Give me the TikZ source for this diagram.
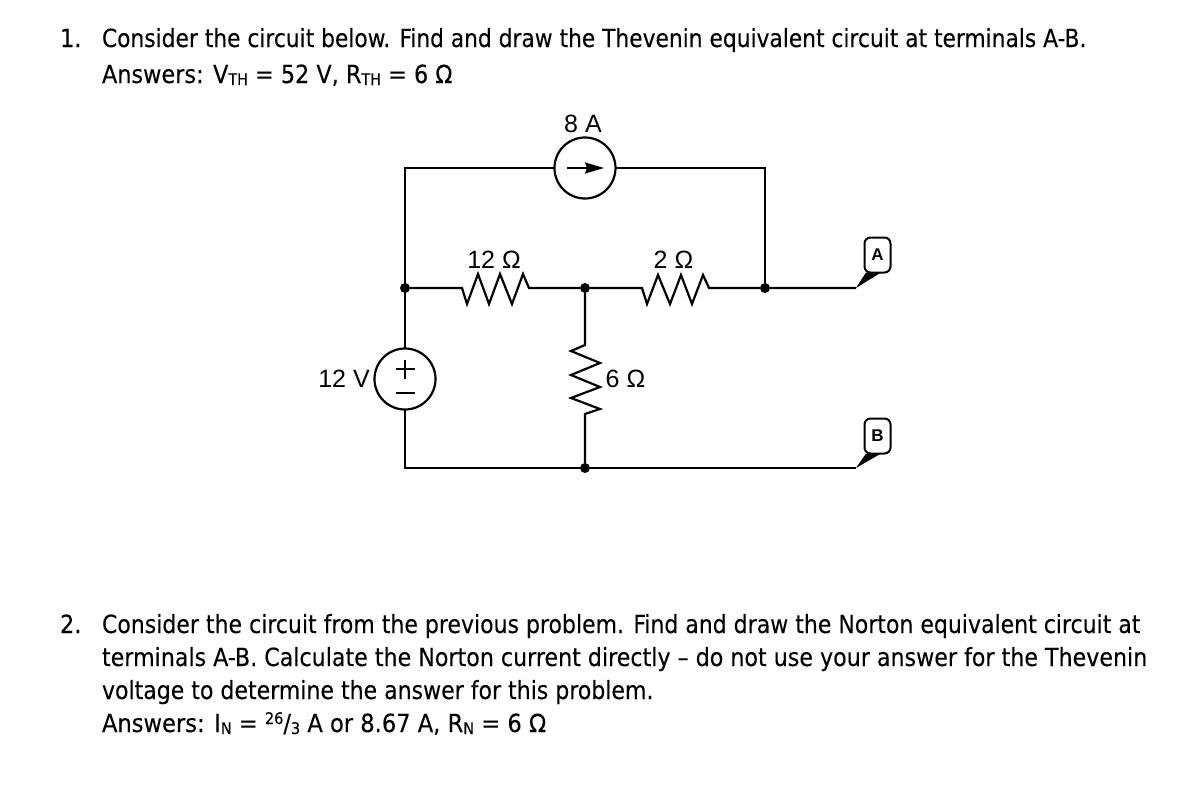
\documentclass[tikz,border=0pt]{standalone}
\usepackage{fontspec}
\usetikzlibrary{arrows.meta,calc}
\setmainfont[FakeBold=0.12]{DejaVu Sans Condensed}
\newfontfamily\lab{Liberation Sans}
\newcommand{\lowtxt}[1]{\raisebox{-2pt}{\fontsize{16}{16}\selectfont #1}}
\newcommand{\uptxt}[1]{\raisebox{8pt}{\fontsize{16}{16}\selectfont #1}}
\newcommand{\sq}[2]{\scalebox{#1}[1]{#2}}
\tikzset{
 txt/.style={anchor=base west,inner sep=0pt,outer sep=0pt,font=\fontsize{25}{25}\selectfont,text=black},
 lbl/.style={anchor=base,inner sep=0pt,font=\lab\fontsize{25}{25}\selectfont,text=black},
 wire/.style={line width=2.2pt,line join=miter,draw=black},
 src/.style={circle,draw=black,line width=2.2pt,minimum size=61pt,inner sep=0pt,outer sep=0pt},
 dotj/.style={circle,fill=black,inner sep=0pt,minimum size=10pt},
 term/.style={draw=black,line width=2pt,rounded corners=6pt,minimum width=26pt,minimum height=35pt,inner sep=0pt,outer sep=0pt,font=\lab\bfseries\fontsize{17}{17}\selectfont,fill=white},
}
\begin{document}
\begin{tikzpicture}[x=1pt,y=-1pt]
\useasboundingbox (0,0) rectangle (1179,790);
\fill[white] (0,0) rectangle (1179,790);
% text
\node[txt] (n1) at (60,47) {1.};
\node[txt] (t1) at (102,47) {\sq{.968}{Consider the circuit below. Find and draw the Thevenin equivalent circuit at terminals A-B.}};
\node[txt] (t2) at (102,83) {\sq{.995}{Answers: V\lowtxt{TH} = 52 V, R\lowtxt{TH} = 6 Ω}};
\node[txt] (n2) at (60,633) {2.};
\node[txt] (t3) at (102,633) {\sq{.979}{Consider the circuit from the previous problem. Find and draw the Norton equivalent circuit at}};
\node[txt] (t4) at (102,666) {\sq{.986}{terminals A-B. Calculate the Norton current directly – do not use your answer for the Thevenin}};
\node[txt] (t5) at (102,699) {\sq{.98}{voltage to determine the answer for this problem.}};
\node[txt] (t6) at (102,732) {\sq{1.005}{Answers: I\lowtxt{N} = \uptxt{26}/\lowtxt{3} A or 8.67 A, R\lowtxt{N} = 6 Ω}};
% junctions
\coordinate (tl) at (405,168);
\coordinate (tr) at (765,168);
\coordinate (bl) at (405,468);
\node[dotj] (jl) at (405,288) {};
\node[dotj] (jm) at (585,288) {};
\node[dotj] (jr) at (765,288) {};
\node[dotj] (jb) at (585,468) {};
% sources
\node[src] (is) at (585,168) {};
\node[src] (vs) at (405,379) {};
% resistor ends
\coordinate (r1a) at (462,288); \coordinate (r1b) at (529,288);
\coordinate (r2a) at (642,288); \coordinate (r2b) at (709,288);
\coordinate (r3a) at (585,345); \coordinate (r3b) at (585,414);
% terminals
\coordinate (ta) at (856,288);
\coordinate (tb) at (856,468);
\node[term] (A) at (877.5,255) {A};
\node[term] (B) at (877.5,436) {B};
% wires
\draw[wire] (is.west) -- (tl) -- (vs.north);
\draw[wire] (is.east) -- (tr) -- (jr);
\draw[wire] (vs.south) -- (bl) -- (jb) -- (tb);
\draw[wire] (jl) -- (r1a) -- (467,304) -- (478,274) -- (489,304) -- (500,274) -- (512,304) -- (523,274) -- (r1b) -- (jm);
\draw[wire] (jm) -- (r2a) -- (647,304) -- (658,275) -- (670,304) -- (681,275) -- (692,304) -- (703,275) -- (r2b) -- (jr) -- (ta);
\draw[wire] (jm) -- (r3a) -- (571,351) -- (600,363) -- (571,375) -- (600,387) -- (571,398) -- (600,409) -- (r3b) -- (jb);
% terminal wedges
\fill[black] (ta) -- (866,272.5) -- (881,272.5) -- cycle;
\fill[black] (tb) -- (866,453.5) -- (881,453.5) -- cycle;
% source symbols
\draw[line width=1.3pt,black,-{Stealth[length=19pt,width=11pt,inset=2pt]}] (567,168) -- (604,168);
\draw[line width=1.9pt,black] (395.5,369) -- (414.5,369) (405,359.5) -- (405,379);
\draw[line width=1.9pt,black] (395.5,393) -- (414.5,393);
% labels
\node[lbl] (l8) at (583,132) {8 A};
\node[lbl] (l12) at (494,268) {12 Ω};
\node[lbl] (l2) at (673.5,268) {2 Ω};
\node[lbl] (l6) at (625.5,387) {6 Ω};
\node[lbl] (lv) at (344,387) {12 V};
\end{tikzpicture}
\end{document}
